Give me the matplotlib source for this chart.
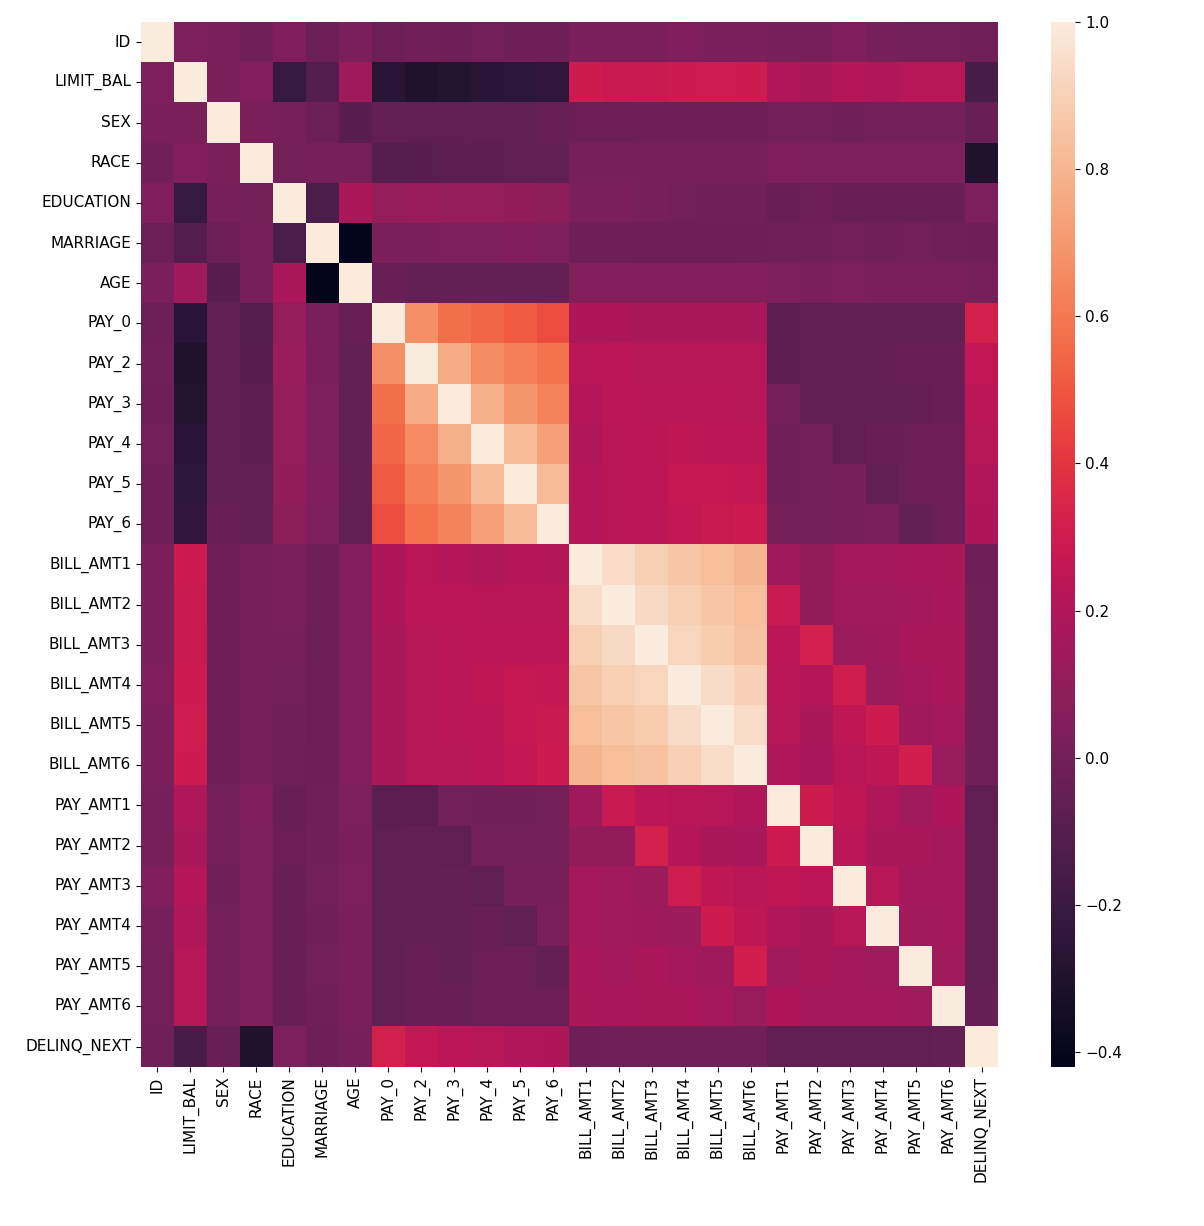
import numpy as np
import matplotlib
matplotlib.use("Agg")
import matplotlib.pyplot as plt
import seaborn as sns
import pandas as pd

labels = ["ID","LIMIT_BAL","SEX","RACE","EDUCATION","MARRIAGE","AGE",
          "PAY_0","PAY_2","PAY_3","PAY_4","PAY_5","PAY_6",
          "BILL_AMT1","BILL_AMT2","BILL_AMT3","BILL_AMT4","BILL_AMT5","BILL_AMT6",
          "PAY_AMT1","PAY_AMT2","PAY_AMT3","PAY_AMT4","PAY_AMT5","PAY_AMT6","DELINQ_NEXT"]

# upper-triangle rows (values right of the diagonal)
upper = {
 "ID":        [0.03,0.02,-0.01,0.04,-0.03,0.02,-0.03,-0.01,-0.02,-0.0,-0.02,-0.02,0.02,0.02,0.02,0.04,0.02,0.02,0.01,0.01,0.04,0.01,0.0,0.0,-0.01],
 "LIMIT_BAL": [0.02,0.05,-0.22,-0.11,0.14,-0.27,-0.30,-0.29,-0.27,-0.25,-0.24,0.29,0.28,0.28,0.29,0.30,0.29,0.20,0.18,0.21,0.20,0.22,0.22,-0.15],
 "SEX":       [0.02,0.01,-0.03,-0.09,-0.06,-0.07,-0.07,-0.06,-0.06,-0.04,-0.03,-0.03,-0.02,-0.02,-0.02,-0.02,-0.0,-0.0,-0.01,-0.0,-0.0,-0.0,-0.04],
 "RACE":      [-0.0,0.01,0.01,-0.10,-0.09,-0.08,-0.08,-0.07,-0.06,0.01,0.01,0.01,0.01,0.01,0.01,0.04,0.03,0.03,0.03,0.03,0.03,-0.30],
 "EDUCATION": [-0.14,0.18,0.11,0.12,0.11,0.11,0.10,0.08,0.02,0.02,0.01,-0.0,-0.01,-0.01,-0.04,-0.03,-0.04,-0.04,-0.04,-0.04,0.03],
 "MARRIAGE":  [-0.41,0.02,0.02,0.03,0.03,0.04,0.03,-0.02,-0.02,-0.03,-0.03,-0.03,-0.02,-0.01,-0.01,-0.0,-0.01,-0.0,-0.01,-0.02],
 "AGE":       [-0.04,-0.05,-0.05,-0.05,-0.05,-0.05,0.05,0.05,0.05,0.05,0.05,0.05,0.03,0.02,0.03,0.02,0.02,0.02,0.01],
 "PAY_0":     [0.67,0.57,0.54,0.51,0.47,0.19,0.19,0.18,0.18,0.18,0.18,-0.08,-0.07,-0.07,-0.06,-0.06,-0.06,0.32],
 "PAY_2":     [0.77,0.66,0.62,0.58,0.23,0.24,0.22,0.22,0.22,0.22,-0.08,-0.06,-0.06,-0.05,-0.04,-0.04,0.26],
 "PAY_3":     [0.78,0.69,0.63,0.21,0.24,0.23,0.23,0.23,0.22,0.0,-0.07,-0.05,-0.05,-0.05,-0.04,0.24],
 "PAY_4":     [0.82,0.72,0.20,0.23,0.24,0.25,0.24,0.24,-0.01,-0.0,-0.07,-0.04,-0.03,-0.03,0.22],
 "PAY_5":     [0.82,0.21,0.23,0.24,0.27,0.27,0.26,-0.01,-0.0,0.01,-0.06,-0.03,-0.03,0.20],
 "PAY_6":     [0.21,0.23,0.24,0.26,0.28,0.29,-0.0,-0.0,0.01,0.02,-0.05,-0.03,0.19],
 "BILL_AMT1": [0.95,0.89,0.86,0.83,0.80,0.14,0.10,0.16,0.16,0.17,0.18,-0.02],
 "BILL_AMT2": [0.93,0.89,0.86,0.83,0.28,0.10,0.15,0.15,0.16,0.17,-0.01],
 "BILL_AMT3": [0.92,0.88,0.85,0.24,0.32,0.13,0.14,0.18,0.18,-0.01],
 "BILL_AMT4": [0.94,0.90,0.23,0.21,0.30,0.13,0.16,0.18,-0.01],
 "BILL_AMT5": [0.95,0.22,0.18,0.25,0.29,0.14,0.16,-0.01],
 "BILL_AMT6": [0.20,0.17,0.23,0.25,0.31,0.12,-0.01],
 "PAY_AMT1":  [0.29,0.25,0.20,0.15,0.19,-0.07],
 "PAY_AMT2":  [0.24,0.18,0.18,0.16,-0.06],
 "PAY_AMT3":  [0.22,0.16,0.16,-0.06],
 "PAY_AMT4":  [0.15,0.16,-0.06],
 "PAY_AMT5":  [0.15,-0.06],
 "PAY_AMT6":  [-0.05],
}

n = len(labels)
M = np.eye(n)
for i, lab in enumerate(labels[:-1]):
    vals = upper[lab]
    for k, v in enumerate(vals):
        j = i + 1 + k
        M[i, j] = v
        M[j, i] = v
df = pd.DataFrame(M, index=labels, columns=labels)

fig = plt.figure(figsize=(12.04, 12.26), dpi=100)
ax = fig.add_axes([0.117, 0.130, 0.712, 0.852])
cax = fig.add_axes([0.873, 0.130, 0.02, 0.852])
sns.heatmap(df, ax=ax, cbar_ax=cax, cmap="rocket", vmin=-0.42, vmax=1.0)
ax.tick_params(labelsize=11)
cax.tick_params(labelsize=11)
plt.setp(ax.get_xticklabels(), rotation=90)
plt.setp(ax.get_yticklabels(), rotation=0)
fig.savefig("out.png", dpi=100)
